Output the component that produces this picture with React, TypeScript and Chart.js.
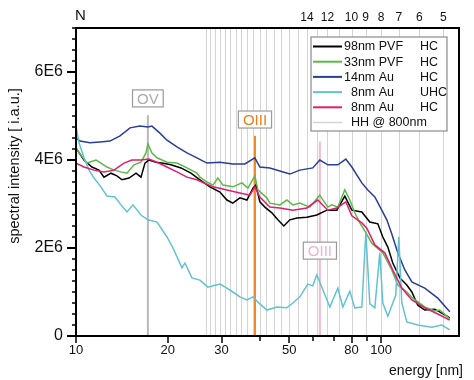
import React, { useEffect, useRef } from 'react';
import { Chart, registerables } from 'chart.js';

Chart.register(...registerables);

const FONT = "'Liberation Sans', Arial, Helvetica, sans-serif";

// ---------- data (wavelength in nm, intensity in units of 1E6) ----------
const wlBlack = [10.00, 10.62, 11.28, 11.89, 12.35, 13.02, 13.62, 14.15, 14.92, 15.73, 16.33, 16.83, 17.34, 18.28, 19.12, 20.47, 22.08, 23.81, 25.48, 27.48, 29.63, 31.23, 32.67, 34.44, 36.32, 38.01, 38.87, 40.05, 41.59, 43.85, 45.88, 47.99, 50.21, 52.96, 57.08, 61.55, 66.39, 71.59, 76.04, 80.17, 86.45, 91.84, 97.55, 101.3, 105.2, 109.2, 115.2, 121.4, 126.1, 131.9, 139.0, 149.9, 161.7, 167.9];
const intBlack = [4.27, 4.00, 3.84, 3.77, 3.61, 3.70, 3.64, 3.55, 3.59, 3.70, 3.61, 3.93, 4.00, 3.95, 3.93, 3.89, 3.82, 3.70, 3.55, 3.39, 3.27, 3.09, 3.02, 3.14, 3.09, 3.36, 3.43, 3.05, 2.93, 2.80, 2.64, 2.50, 2.64, 2.68, 2.70, 2.75, 2.86, 2.86, 3.18, 2.86, 2.82, 2.59, 2.55, 2.25, 2.02, 1.66, 1.32, 1.16, 1.00, 0.70, 0.59, 0.61, 0.48, 0.41];

const wlGreen = [10.00, 10.38, 10.87, 11.63, 12.07, 12.63, 13.32, 14.04, 14.69, 15.49, 16.33, 16.96, 17.21, 17.74, 18.43, 19.87, 21.42, 23.10, 24.91, 25.48, 26.86, 28.11, 29.18, 30.30, 32.67, 34.98, 36.60, 38.57, 39.46, 42.22, 43.19, 46.57, 49.10, 51.37, 54.15, 58.39, 62.96, 66.88, 68.95, 72.14, 76.04, 78.97, 82.00, 85.15, 88.43, 93.21, 101.3, 108.4, 113.4, 121.4, 127.0, 139.0, 149.9, 155.7, 167.9];
const intGreen = [4.27, 4.11, 3.93, 4.00, 3.93, 3.84, 3.77, 3.73, 3.70, 3.89, 3.95, 4.16, 4.36, 4.16, 4.05, 3.95, 3.93, 3.82, 3.70, 3.61, 3.50, 3.43, 3.59, 3.43, 3.39, 3.48, 3.36, 3.64, 3.32, 3.14, 3.02, 2.98, 3.09, 2.98, 3.02, 2.93, 3.20, 2.93, 2.98, 2.93, 3.32, 3.09, 2.80, 2.57, 2.39, 2.11, 1.89, 1.50, 1.16, 1.00, 0.86, 0.66, 0.57, 0.59, 0.39];

const wlBlue = [10.00, 10.31, 11.11, 11.98, 12.92, 13.94, 15.03, 16.20, 17.21, 17.74, 18.84, 19.87, 21.42, 23.10, 24.91, 26.86, 29.63, 32.67, 35.77, 38.57, 40.05, 43.19, 46.57, 50.21, 54.15, 59.72, 62.96, 66.88, 72.14, 76.62, 80.17, 86.45, 90.44, 95.37, 100.5, 104.4, 108.4, 113.4, 119.6, 126.1, 139.0, 153.4, 167.9];
const intBlue = [4.50, 4.43, 4.39, 4.41, 4.43, 4.55, 4.73, 4.77, 4.75, 4.77, 4.61, 4.45, 4.30, 4.16, 4.05, 3.93, 3.95, 3.91, 3.91, 4.05, 3.84, 3.82, 3.75, 3.68, 3.77, 3.82, 4.00, 3.89, 3.89, 4.02, 3.84, 3.48, 3.32, 3.16, 2.86, 2.64, 2.32, 1.89, 1.50, 1.23, 1.09, 0.86, 0.55];

const wlCyan = [10.00, 10.23, 10.62, 11.03, 11.46, 12.07, 12.63, 13.42, 14.04, 14.69, 15.37, 16.33, 17.21, 18.43, 19.87, 20.79, 22.25, 22.75, 23.99, 25.48, 27.07, 28.11, 29.63, 31.23, 32.67, 34.44, 36.32, 38.01, 39.46, 42.22, 45.54, 49.10, 51.37, 54.15, 57.52, 59.72, 61.55, 63.93, 67.92, 72.14, 74.92, 78.97, 82.00, 86.45, 89.11, 91.84, 95.37, 99.01, 101.3, 105.2, 111.7, 114.3, 116.9, 121.4, 131.9, 146.6, 158.1, 167.9];
const intCyan = [4.77, 4.39, 4.05, 3.77, 3.59, 3.39, 3.18, 3.16, 2.98, 2.82, 2.98, 2.75, 2.64, 2.59, 2.25, 2.00, 1.55, 1.66, 1.32, 1.27, 1.11, 1.14, 1.18, 1.09, 1.00, 0.89, 0.82, 0.89, 0.77, 0.59, 0.66, 0.64, 0.75, 0.89, 1.18, 1.14, 1.39, 1.11, 0.66, 1.09, 0.66, 1.02, 0.64, 0.66, 2.34, 0.73, 0.64, 1.89, 0.75, 0.45, 0.93, 2.25, 0.75, 0.32, 0.25, 0.20, 0.25, 0.14];

const wlPink = [10.00, 10.62, 11.46, 12.35, 13.32, 14.36, 15.25, 16.33, 17.34, 18.42, 19.87, 21.42, 23.10, 24.91, 25.86, 28.11, 31.23, 34.44, 37.14, 38.57, 40.05, 43.19, 46.57, 51.37, 57.08, 62.02, 66.88, 71.59, 76.62, 80.17, 86.45, 89.78, 95.37, 102.8, 109.2, 116.9, 126.1, 139.0, 153.4, 167.9];
const intPink = [3.93, 3.84, 3.77, 3.73, 3.77, 3.93, 4.00, 4.00, 4.02, 3.95, 3.84, 3.73, 3.61, 3.55, 3.50, 3.39, 3.32, 3.25, 3.20, 3.39, 3.16, 2.93, 2.91, 2.86, 2.91, 3.09, 2.86, 2.91, 3.05, 2.73, 2.57, 2.45, 2.07, 1.89, 1.50, 1.09, 0.82, 0.64, 0.50, 0.36];

const legendNames = ['98nm PVF', '33nm PVF', '14nm Au', '  8nm Au', '  8nm Au', '  HH @ 800nm'];
const legendTags = ['HC', 'HC', 'HC', 'UHC', 'HC', ''];

// ticks
const xTickValues = [10, 20, 30, 40, 50, 60, 70, 80, 90, 100];
const xTickLabels = ['10', '20', '30', '', '50', '', '', '80', '', '100'];
const yTickValues = [0, 0.25, 0.5, 0.75, 1, 1.25, 1.5, 1.75, 2, 2.25, 2.5, 2.75, 3, 3.25, 3.5, 3.75, 4, 4.25, 4.5, 4.75, 5, 5.25, 5.5, 5.75, 6, 6.25, 6.5, 6.75, 7];
const yLabelled = [0, 2, 4, 6];
const topHarmonics = [14, 12, 10, 9, 8, 7, 6, 5];
const driverNm = 800;
const hhOrders = [5, 6, 7, 8, 9, 10, 11, 12, 13, 14, 15, 16, 17, 18, 19, 20, 21, 22, 23, 24, 25, 26, 27, 28, 29, 30];

// line annotations
const annNames = ['OV', 'OIII', 'OIII'];
const annWave = [17.2, 38.6, 63.0];
const annLineTop = [5.02, 4.55, 4.42];
const annLabelY = [5.40, 4.92, 1.94];

// styles
const seriesColors = ['#000000', '#5cb848', '#2b3d94', '#62c2d2', '#e01d6e'];
const annLineColors = ['#b8b8b8', '#f08a2a', '#f4b9d0'];
const annTextColors = ['#aaaaaa', '#ee7d1c', '#f0b2cb'];
const hhColor = '#d4d4d4';

const series = [
  { wl: wlBlack, v: intBlack },
  { wl: wlGreen, v: intGreen },
  { wl: wlBlue, v: intBlue },
  { wl: wlCyan, v: intCyan },
  { wl: wlPink, v: intPink },
];

const overlay = {
  id: 'overlay',
  beforeDatasetsDraw(chart: any) {
    const { ctx, chartArea: a, scales } = chart;
    const x = scales.x;
    const y = scales.y;
    ctx.save();
    ctx.strokeStyle = hhColor;
    ctx.lineWidth = 1;
    hhOrders.forEach((n) => {
      const px = Math.round(x.getPixelForValue(driverNm / n)) + 0.5;
      ctx.beginPath();
      ctx.moveTo(px, a.top);
      ctx.lineTo(px, a.bottom);
      ctx.stroke();
    });
    annWave.forEach((w, i) => {
      const px = x.getPixelForValue(w);
      ctx.strokeStyle = annLineColors[i];
      ctx.lineWidth = 2;
      ctx.beginPath();
      ctx.moveTo(px, y.getPixelForValue(annLineTop[i]));
      ctx.lineTo(px, a.bottom);
      ctx.stroke();
    });
    ctx.restore();
  },
  afterDatasetsDraw(chart: any) {
    const { ctx, chartArea: a, scales } = chart;
    const x = scales.x;
    const y = scales.y;
    ctx.save();

    // annotation labels
    ctx.font = `15px ${FONT}`;
    ctx.textAlign = 'center';
    ctx.textBaseline = 'middle';
    annNames.forEach((name, i) => {
      const px = x.getPixelForValue(annWave[i]);
      const py = y.getPixelForValue(annLabelY[i]);
      const w = ctx.measureText(name).width + 9;
      const h = 17;
      ctx.fillStyle = '#ffffff';
      ctx.fillRect(px - w / 2, py - h / 2, w, h);
      ctx.strokeStyle = '#9a9a9a';
      ctx.lineWidth = 1.2;
      ctx.strokeRect(px - w / 2, py - h / 2, w, h);
      ctx.fillStyle = annTextColors[i];
      ctx.fillText(name, px, py + 1);
    });

    // frame
    ctx.strokeStyle = '#000';
    ctx.lineWidth = 2;
    ctx.strokeRect(a.left, a.top, a.right - a.left, a.bottom - a.top);

    // y ticks
    y.ticks.forEach((t: any) => {
      const py = Math.round(y.getPixelForValue(t.value));
      const major = yLabelled.includes(t.value);
      ctx.lineWidth = major ? 2 : 1.5;
      ctx.beginPath();
      ctx.moveTo(a.left - (major ? 9 : 4), py);
      ctx.lineTo(a.left, py);
      ctx.stroke();
    });
    // x ticks
    x.ticks.forEach((t: any, i: number) => {
      const px = Math.round(x.getPixelForValue(t.value));
      const major = xTickLabels[i] !== '';
      ctx.lineWidth = 1.5;
      ctx.beginPath();
      ctx.moveTo(px, a.bottom);
      ctx.lineTo(px, a.bottom + (major ? 7 : 5));
      ctx.stroke();
    });

    // titles
    ctx.fillStyle = '#111';
    ctx.textBaseline = 'middle';
    ctx.font = `15px ${FONT}`;
    ctx.textAlign = 'left';
    ctx.fillText('N', 75, 16);
    ctx.font = `14px ${FONT}`;
    ctx.textAlign = 'right';
    ctx.fillText('energy [nm]', 463, 371);
    ctx.save();
    ctx.translate(15, 166);
    ctx.rotate(-Math.PI / 2);
    ctx.textAlign = 'center';
    ctx.font = `14.5px ${FONT}`;
    ctx.fillText('spectral intensity [ i.a.u.]', 0, 0);
    ctx.restore();

    // legend
    const lx = 311, ly = 37, lw = 136, lh = 94;
    ctx.fillStyle = '#fff';
    ctx.fillRect(lx, ly, lw, lh);
    ctx.strokeStyle = '#8a8a8a';
    ctx.lineWidth = 1.2;
    ctx.strokeRect(lx, ly, lw, lh);
    ctx.font = `12.5px ${FONT}`;
    ctx.textAlign = 'left';
    legendNames.forEach((name, i) => {
      const ry = ly + 9.5 + i * 15.2;
      ctx.strokeStyle = i < seriesColors.length ? seriesColors[i] : hhColor;
      ctx.lineWidth = i < seriesColors.length ? 2 : 1.5;
      ctx.beginPath();
      ctx.moveTo(lx + 2, ry);
      ctx.lineTo(lx + 31, ry);
      ctx.stroke();
      ctx.fillStyle = '#111';
      ctx.fillText(name, lx + 33, ry + 0.5);
      if (legendTags[i]) ctx.fillText(legendTags[i], lx + 109, ry + 0.5);
    });

    ctx.restore();
  },
};

export default function App() {
  const ref = useRef<HTMLCanvasElement | null>(null);
  useEffect(() => {
    const canvas = ref.current;
    if (!canvas) return;
    const datasets = series
      .map((s, i) => ({
        label: legendNames[i],
        data: s.wl.map((w, j) => ({ x: w, y: s.v[j] })),
        borderColor: seriesColors[i],
        backgroundColor: seriesColors[i],
        borderWidth: 1.5,
        pointRadius: 0,
        tension: 0,
        fill: false,
        xAxisID: 'x',
        yAxisID: 'y',
      }))
      .reverse();
    const chart = new Chart(canvas, {
      type: 'line',
      data: { datasets },
      options: {
        animation: false,
        responsive: false,
        devicePixelRatio: 1,
        events: [],
        layout: { padding: { left: 0, right: 15, top: 0, bottom: 0 } },
        plugins: { legend: { display: false }, tooltip: { enabled: false }, title: { display: false } },
        scales: {
          x: {
            type: 'logarithmic',
            position: 'bottom',
            min: 10,
            max: 180,
            grid: { display: false, drawTicks: false },
            border: { display: false },
            ticks: {
              autoSkip: false,
              maxRotation: 0,
              padding: 7,
              color: '#111',
              font: { family: FONT, size: 13 },
              callback: (_v: any, i: number) => xTickLabels[i] ?? '',
            },
            afterBuildTicks: (s: any) => {
              s.ticks = xTickValues.map((v) => ({ value: v }));
            },
            afterFit: (s: any) => {
              s.height = 44;
            },
          },
          xTop: {
            type: 'logarithmic',
            position: 'top',
            min: 10,
            max: 180,
            grid: { display: false, drawTicks: false },
            border: { display: false },
            ticks: {
              autoSkip: false,
              maxRotation: 0,
              padding: 3,
              color: '#111',
              font: { family: FONT, size: 12 },
              callback: (_v: any, i: number) => String(topHarmonics[i]),
            },
            afterBuildTicks: (s: any) => {
              s.ticks = topHarmonics.map((n) => ({ value: driverNm / n }));
            },
            afterFit: (s: any) => {
              s.height = 28;
            },
          },
          y: {
            type: 'linear',
            position: 'left',
            min: 0,
            max: 7,
            grid: { display: false, drawTicks: false },
            border: { display: false },
            ticks: {
              autoSkip: false,
              padding: 13,
              color: '#111',
              font: { family: FONT, size: 16 },
              callback: (v: any) => (yLabelled.includes(v) ? (v === 0 ? '0' : `${v}E6`) : ''),
            },
            afterBuildTicks: (s: any) => {
              s.ticks = yTickValues.map((v) => ({ value: v }));
            },
            afterFit: (s: any) => {
              s.width = 76;
            },
          },
        },
      } as any,
      plugins: [overlay],
    });
    return () => chart.destroy();
  }, []);

  return (
    <div style={{ position: 'absolute', left: 0, top: 0, width: 474, height: 380, background: '#fff' }}>
      <canvas ref={ref} width={474} height={380} style={{ display: 'block' }} />
    </div>
  );
}
